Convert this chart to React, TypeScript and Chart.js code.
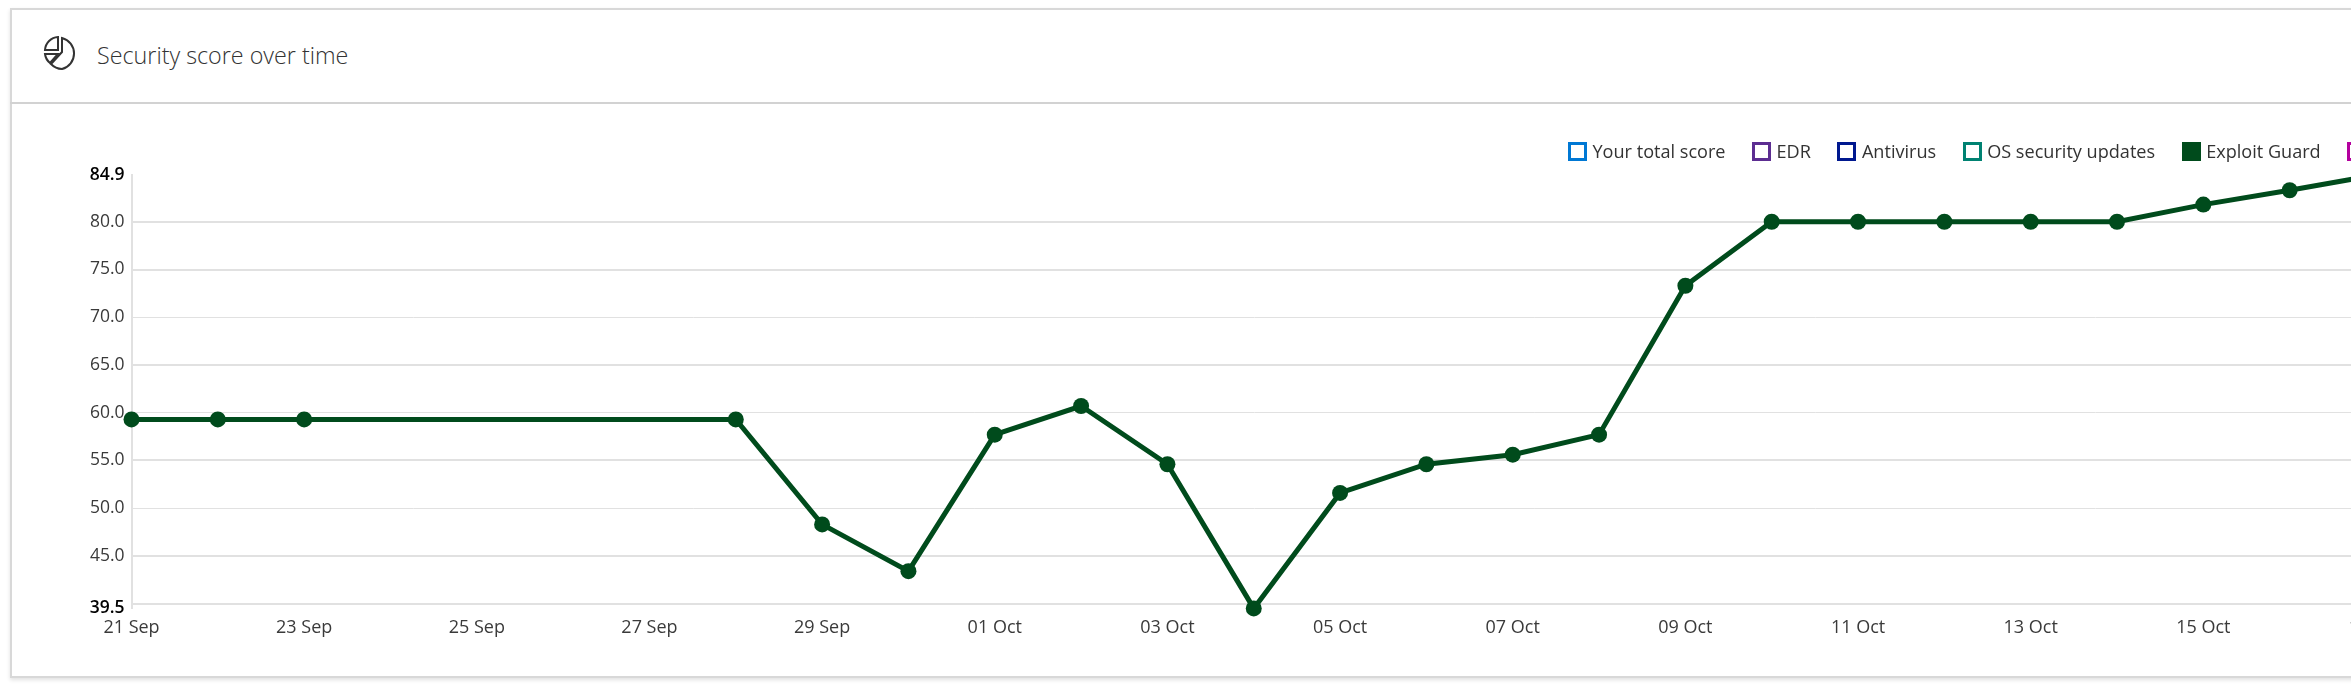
import React, { useEffect, useRef } from 'react';
import { Chart, registerables } from 'chart.js';

Chart.register(...registerables);

const categories = [
  '21 Sep', '22 Sep', '23 Sep', '24 Sep', '25 Sep', '26 Sep', '27 Sep', '28 Sep', '29 Sep', '30 Sep',
  '01 Oct', '02 Oct', '03 Oct', '04 Oct', '05 Oct', '06 Oct', '07 Oct', '08 Oct', '09 Oct', '10 Oct',
  '11 Oct', '12 Oct', '13 Oct', '14 Oct', '15 Oct', '16 Oct', '17 Oct',
];
// the days without a marker are null, the line just spans them
const exploitGuard = [
  59.3, 59.3, 59.3, null, null, null, null, 59.3, 48.3, 43.4,
  57.7, 60.7, 54.6, 39.5, 51.6, 54.6, 55.6, 57.7, 73.3, 80.0,
  80.0, 80.0, 80.0, 80.0, 81.8, 83.3, 84.9,
];
const yTicks = [39.5, 40, 45, 50, 55, 60, 65, 70, 75, 80, 84.9];
const thinLines = [50, 60, 70];

// last entry runs off the page, only its swatch shows
const legendLabels = ['Your total score', 'EDR', 'Antivirus', 'OS security updates', 'Exploit Guard', ''];
const legendColors = ['#0078d4', '#5c2d91', '#00188f', '#008272', '#004b1c', '#b4009e'];
const activeSeries = 'Exploit Guard';

const FONT = '"Open Sans", sans-serif';
const LINE = '#004b1c';

const isEnd = (c: any) => c.tick?.value === 39.5 || c.tick?.value === 84.9;

const PieIcon = () => (
  <svg width="36" height="34" viewBox="0 0 36 34" fill="none" stroke="#333" strokeWidth="2"
    style={{ position: 'absolute', left: 43, top: 36 }}>
    <path d="M19 2 A16 16 0 0 1 19 33 A16 16 0 0 1 8 28 L19 16 Z" />
    <path d="M15 1 A14 14 0 0 0 2 14 L15 14 Z" />
    <path d="M2 18 L15 18 L7 27 A14 14 0 0 1 2 18 Z" />
  </svg>
);

const App: React.FC = () => {
  const chartRef = useRef<HTMLCanvasElement>(null);

  useEffect(() => {
    if (!chartRef.current) return;
    const chart = new Chart(chartRef.current, {
      type: 'line',
      data: {
        labels: categories,
        datasets: [{
          label: activeSeries,
          data: exploitGuard,
          borderColor: LINE,
          backgroundColor: LINE,
          borderWidth: 5,
          pointRadius: 8,
          pointBackgroundColor: LINE,
          pointBorderColor: LINE,
          pointBorderWidth: 0,
          tension: 0,
          spanGaps: true,
          clip: false,
        }],
      },
      options: {
        responsive: false,
        animation: false,
        layout: { padding: { top: 46, right: 0, bottom: 0, left: 0 } },
        plugins: { legend: { display: false }, tooltip: { enabled: false } },
        scales: {
          x: {
            type: 'category',
            grid: { display: false },
            border: { display: false },
            ticks: {
              autoSkip: false,
              maxRotation: 0,
              padding: 1,
              color: '#3a3a3a',
              font: { family: FONT, size: 18, weight: '400' as any },
              callback: (_v: any, i: number) => (i % 2 === 0 ? categories[i] : ''),
            },
            afterFit: (s: any) => { s.paddingRight = 0; s.paddingLeft = 0; },
          },
          y: {
            min: 39.5,
            max: 84.9,
            afterBuildTicks: (s: any) => { s.ticks = yTicks.map((value) => ({ value })); },
            afterFit: (s: any) => { s.width = 131.5; },
            border: { display: true, color: '#e1e1e1', width: 2 },
            grid: {
              drawTicks: false,
              color: (c: any) => (isEnd(c) ? 'transparent' : '#e1e1e1'),
              lineWidth: (c: any) => (thinLines.includes(c.tick?.value) ? 1 : 2),
            },
            ticks: {
              padding: 7,
              autoSkip: false,
              color: (c: any) => (isEnd(c) ? '#000' : '#3a3a3a'),
              font: (c: any) => ({
                family: FONT,
                size: 17.5,
                weight: (isEnd(c) ? '600' : '400') as any,
              }),
              callback: (v: any) => (v === 40 ? '' : Number(v).toFixed(1)),
            },
          },
        },
      },
    });
    return () => chart.destroy();
  }, []);

  return (
    <div style={{ position: 'fixed', inset: 0, overflow: 'hidden', background: '#fff', fontFamily: FONT }}>
      <div style={{
        position: 'absolute', left: 10, top: 8, width: 2600, height: 670, boxSizing: 'border-box',
        border: '2px solid #d8d8d8', boxShadow: '0 2px 4px rgba(0,0,0,0.12)',
      }} />
      <div style={{ position: 'absolute', left: 10, top: 102, width: 2600, height: 2, background: '#d2d2d2' }} />
      <PieIcon />
      <div style={{
        position: 'absolute', left: 97, top: 38, fontSize: 23.3, fontWeight: 300, color: '#333', lineHeight: '34px',
        whiteSpace: 'nowrap',
      }}>Security score over time</div>
      <canvas ref={chartRef} width={2384} height={511}
        style={{ position: 'absolute', left: 0, top: 129, display: 'block' }} />
      <div style={{
        position: 'absolute', left: 1568, top: 142, display: 'flex', gap: 26.5, alignItems: 'center',
        whiteSpace: 'nowrap', fontSize: 18.1, fontWeight: 400, color: '#333', lineHeight: '19px',
      }}>
        {legendLabels.map((label, i) => (
          <div key={i} style={{ display: 'flex', alignItems: 'center', gap: 5.5 }}>
            <span style={{
              width: 19, height: 19, boxSizing: 'border-box', display: 'inline-block',
              border: `3px solid ${legendColors[i]}`,
              background: label === activeSeries ? legendColors[i] : '#fff',
            }} />
            <span>{label}</span>
          </div>
        ))}
      </div>
    </div>
  );
};

export default App;
